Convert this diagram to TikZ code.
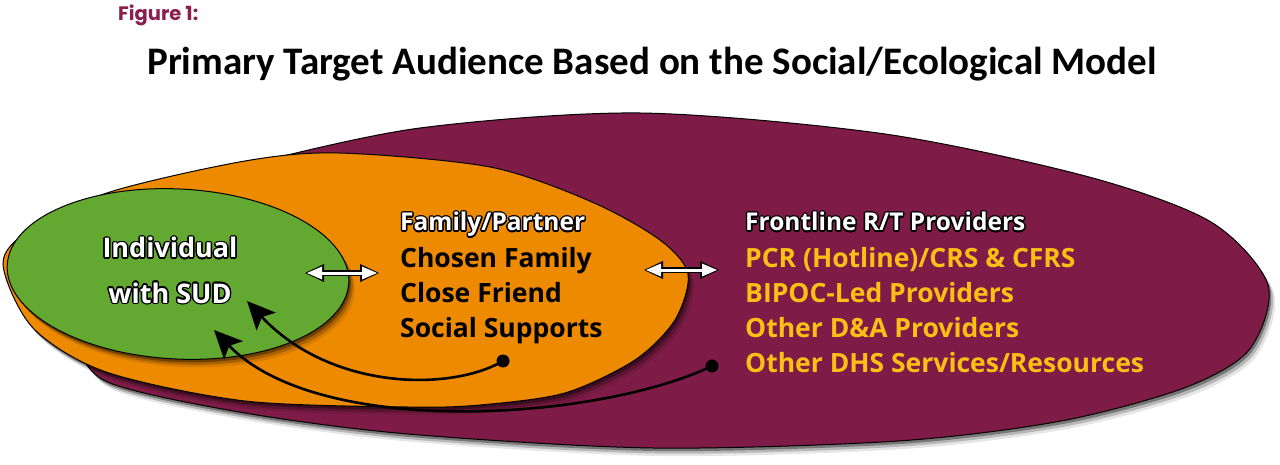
\documentclass[tikz,border=0pt]{standalone}
\usepackage{fontspec}
\setmainfont{Open Sans}
\newfontfamily\titlefont{Carlito}
\newfontfamily\figfont{Poppins}
\usepackage{contour}
\contourlength{1.4pt}
\usetikzlibrary{arrows.meta,shapes.geometric,shadows}
\definecolor{maroonfill}{HTML}{7E1C47}
\definecolor{figmaroon}{HTML}{8A1F4E}
\definecolor{orangefill}{HTML}{EE8A00}
\definecolor{greenfill}{HTML}{63A831}
\definecolor{yellowtxt}{HTML}{FBBF15}
\newcommand{\outl}[1]{\contour{black}{\textcolor{white}{#1}}}
\tikzset{
  softshadow/.style={
    drop shadow={shadow xshift=6pt,shadow yshift=-8pt,opacity=.10,fill=black},
    drop shadow={shadow xshift=4pt,shadow yshift=-5.5pt,opacity=.20,fill=black},
    drop shadow={shadow xshift=2pt,shadow yshift=-3pt,opacity=.35,fill=black}},
  blob/.style={draw=black,line width=1pt,softshadow},
  txt/.style={inner sep=0pt,anchor=base west,font=\bfseries\fontsize{26.5}{30}\selectfont},
  head/.style={inner sep=0pt,anchor=base west,font=\bfseries\fontsize{24.5}{28}\selectfont},
  yel/.style={txt,text=yellowtxt},
  indtxt/.style={inner sep=0pt,anchor=base,font=\bfseries\fontsize{27}{30}\selectfont},
  dot/.style={circle,fill=black,minimum size=13pt,inner sep=0pt},
  curv/.style={line width=2.6pt,-{Stealth[length=28pt,width=26pt,inset=6pt]}},
  dblout/.style={line width=5.5pt,black,{Triangle[length=19pt,width=18pt,line width=0pt]}-{Triangle[length=19pt,width=18pt,line width=0pt]}},
  dblin/.style={line width=3pt,white,{Triangle[length=15pt,width=13pt,line width=0pt]}-{Triangle[length=15pt,width=13pt,line width=0pt]},shorten <=2pt,shorten >=2pt}
}
\begin{document}
\begin{tikzpicture}[x=1pt,y=-1pt]
\useasboundingbox (0,0) rectangle (1280,465);
\fill[white] (0,0) rectangle (1280,465);

% outer region
\path[blob,fill=maroonfill] plot[smooth cycle] coordinates {
 (640,113) (885,134) (1089,177) (1211,222) (1268,285) (1249,350) (1184,388)
 (1061,421) (898,441) (653,448) (408,434) (245,413) (110,383) (75,343)
 (50,280) (90,220) (180,184) (250,164) (420,128)};

% middle region
\path[blob,fill=orangefill] plot[smooth cycle] coordinates {
 (339,153) (490,167) (592,202) (660,240) (688,274) (675,320) (635,360)
 (565,393) (480,405) (408,407) (245,401) (106,372) (33,328) (3,264)
 (30,230) (110,192) (245,161)};

% inner region
\node[blob,ellipse,fill=greenfill,minimum width=342pt,minimum height=170pt,inner sep=0pt,rotate=-3] (ind) at (178,274) {};

% texts
\node[anchor=base west,inner sep=0pt,text=figmaroon,font=\figfont\bfseries\fontsize{19.5}{22}\selectfont] (fig) at (118,21) {Figure 1:};
\node[anchor=base,inner sep=0pt,font=\titlefont\bfseries\fontsize{39}{44}\selectfont] (title) at (652,75) {Primary Target Audience Based on the Social/Ecological Model};

\node[indtxt] (ind1) at (170,258) {\outl{Individual}};
\node[indtxt] (ind2) at (170,303) {\outl{with SUD}};

\node[head] (fp) at (400,231) {\outl{Family/Partner}};
\node[txt] (cf) at (400,267) {Chosen Family};
\node[txt] (cl) at (400,302) {Close Friend};
\node[txt] (ss) at (400,337) {Social Supports};

\node[head] (fr) at (745,231) {\outl{Frontline R/T Providers}};
\node[yel] (pcr) at (745,267) {PCR (Hotline)/CRS \& CFRS};
\node[yel] (bip) at (745,302) {BIPOC-Led Providers};
\node[yel] (oda) at (745,337) {Other D\&A Providers};
\node[yel] (odh) at (745,372) {Other DHS Services/Resources};

% double arrows
\coordinate (a1l) at (305,273);
\coordinate (a1r) at (379,273);
\coordinate (a2l) at (644,270);
\coordinate (a2r) at (719,270);
\draw[dblout] (a1l) -- (a1r);
\draw[dblin] (a1l) -- (a1r);
\draw[dblout] (a2l) -- (a2r);
\draw[dblin] (a2l) -- (a2r);

% curved arrows
\node[dot] (d1) at (503,361) {};
\node[dot] (d2) at (712,366) {};
\coordinate (t1) at (247,301);
\coordinate (t2) at (214,330);
\draw[curv] (d1.center) .. controls (450,392) and (330,390) .. (t1);
\draw[curv] (d2.center) .. controls (600,420) and (320,440) .. (t2);
\end{tikzpicture}
\end{document}
